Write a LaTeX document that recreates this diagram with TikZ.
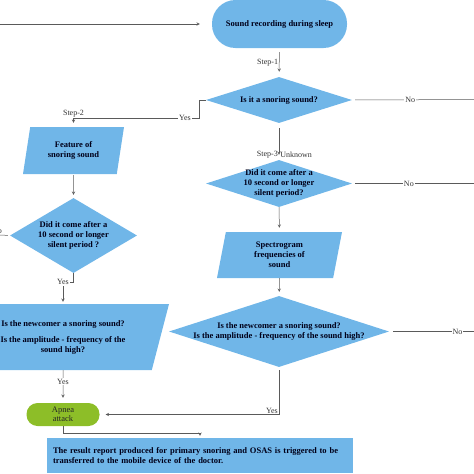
\documentclass[tikz,border=0pt]{standalone}
\usepackage{fontspec}
\setmainfont{Liberation Serif}
\usepackage{xcolor}
\usepackage{tikz}
\usetikzlibrary{shapes,arrows,positioning}

\definecolor{boxblue}{RGB}{112,182,232}
\definecolor{apneagreen}{RGB}{141,190,40}
\definecolor{linegray}{RGB}{90,90,90}

\begin{document}
\begin{tikzpicture}[
    x=1pt, y=-1pt,
    start/.style={rectangle, rounded corners=23.5pt, fill=boxblue, minimum width=135pt, minimum height=48pt, text=black!90!blue, font=\fontsize{8.5}{10}\selectfont\bfseries},
    decision/.style={diamond, fill=boxblue, aspect=3, inner sep=-12pt, align=center, text=black!90!blue, font=\fontsize{8.5}{10}\selectfont\bfseries},
    io/.style={trapezium, trapezium stretches body, fill=boxblue, inner sep=0pt, align=center, text=black!90!blue, font=\fontsize{8.5}{10}\selectfont\bfseries},
    attack/.style={rectangle, rounded corners=11pt, fill=apneagreen, minimum width=73pt, minimum height=23pt, inner sep=0pt, align=center, text=black!85, font=\fontsize{8.5}{9}\selectfont},
    report/.style={rectangle, fill=boxblue, minimum width=306pt, minimum height=35pt, text width=294pt, align=left, text=black!90!blue, font=\fontsize{8.5}{9.5}\selectfont\bfseries},
    arrow/.style={->, >=stealth, draw=linegray, line width=0.5pt, shorten >=4pt},
    line/.style={draw=linegray, line width=0.5pt},
    tag/.style={font=\fontsize{8}{9}\selectfont, text=black!80, inner sep=1pt}
]
    \useasboundingbox (0,0) rectangle (474,474);

    % Start
    \node[start] (rec) at (279.5,24) {Sound recording during sleep};

    % Right column
    \node[decision, minimum width=146pt, minimum height=46pt] (q1) at (279,100) {Is it a snoring sound?};
    \node[decision, minimum width=146pt, minimum height=47pt] (q3) at (279,183.5) {Did it come after a\\10 second or longer\\silent period?};
    \node[io, trapezium left angle=71, trapezium right angle=109, minimum width=125pt, minimum height=46pt] (spectro) at (279.5,255) {Spectrogram\\frequencies of\\sound};
    \node[decision, minimum width=220pt, minimum height=71pt] (q4) at (279,331.5) {Is the newcomer a snoring sound?\\Is the amplitude - frequency of the sound high?};

    % Left column
    \node[io, trapezium left angle=68, trapezium right angle=112, minimum width=101pt, minimum height=47pt] (feat) at (73.5,150.5) {Feature of\\snoring sound};
    \node[decision, minimum width=127pt, minimum height=75pt] (q2) at (73.5,235.5) {Did it come after a\\10 second or longer\\silent period ?};
    \node[io, trapezium left angle=63, trapezium right angle=117, minimum width=212pt, minimum height=66pt] (p3) at (63,337) {Is the newcomer a snoring sound?\\[6pt]Is the amplitude - frequency of the\\sound high?};
    \node[attack] (apnea) at (63,414.5) {Apnea\\attack};

    % Report
    \node[report] (result) at (200,455.5) {The result report produced for primary snoring and OSAS is triggered to be\\transferred to the mobile device of the doctor.};

    % Loose ends
    \coordinate (inL) at (-10,24);
    \coordinate (outA) at (484,99.5);
    \coordinate (outB) at (484,183.5);
    \coordinate (outC) at (484,331.5);
    \coordinate (outD) at (-20,234);

    % Arrows
    \draw[arrow, shorten >=12pt] (inL) -- (rec.west);
    \draw[arrow, shorten <=4pt, shorten >=5pt] (rec) -- node[tag, left] {Step-1} (q1);
    \draw[arrow] (q1.west) -- ++(-7,0) -- ++(0,18) -| node[tag, pos=0.055, fill=white] {Yes} node[tag, pos=0.5, above] {Step-2} (feat);
    \draw[line, shorten <=3pt] (q1.east) -- node[tag, pos=0.44, fill=white] {No} (outA);
    \draw[arrow, shorten <=5pt, shorten >=5pt] (q1) -- node[tag, pos=0.85, left] {Step-3} node[tag, pos=0.85, right] {Unknown} (q3);
    \draw[line, shorten <=3pt] (q3.east) -- node[tag, pos=0.43, fill=white] {No} (outB);
    \draw[arrow] (q3) -- (spectro);
    \draw[arrow] (spectro) -- (q4);
    \draw[line, shorten <=4pt] (q4.east) -- node[tag, pos=0.72, fill=white] {No} (outC);
    \draw[arrow, shorten <=3pt, shorten >=6pt] (q4) |- node[tag, pos=0.5, anchor=south east, fill=white] {Yes} (apnea);

    \draw[arrow, shorten <=1pt, shorten >=3pt] (feat) -- (q2);
    \draw[line, shorten <=2pt] (q2.west) -- node[tag, pos=0.43, above] {No} (outD);
    \draw[arrow, shorten >=2pt] (q2.south) -- ++(0,9) -| node[tag, pos=0.5, fill=white] {Yes} (p3);
    \draw[arrow, shorten >=5pt] (p3) -- node[tag, pos=0.35, fill=white] {Yes} (apnea);
    \draw[arrow, shorten >=2pt] (apnea.south) -- ++(0,7) -| (result);
\end{tikzpicture}
\end{document}
